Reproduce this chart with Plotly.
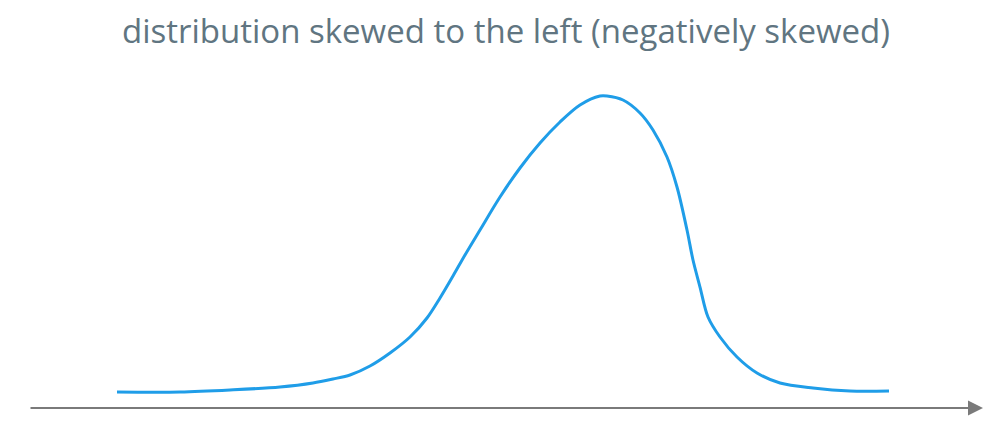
import plotly.graph_objects as go

# Readings of the curve (value on horizontal axis, relative density)
values = [117, 180, 230, 280, 313, 333, 350, 370, 390, 410, 427, 440, 453, 465, 480, 500,
          520, 540, 560, 580, 600, 607, 623, 640, 653, 667, 677, 687, 693, 700, 708,
          720, 737, 757, 780, 813, 850, 889]
ypix = [392, 392, 390, 387, 383, 379, 375, 366, 353, 337, 318, 298, 276, 255, 230, 197,
        168, 143, 122, 105, 96, 96, 100, 113, 130, 157, 187, 230, 260, 287, 317,
        337, 357, 373, 383, 388, 391, 391]
density = [round((392 - p) / 296, 4) for p in ypix]

title_text = "distribution skewed to the left (negatively skewed)"

W, H, OFF = 990, 423, 8

fig = go.Figure()
fig.add_trace(go.Scatter(
    x=values, y=density, mode="lines",
    line=dict(color="#1f9de8", width=3, shape="spline", smoothing=0.9),
    hoverinfo="skip", showlegend=False,
))

y_lo = (392 - (OFF + H)) / 296
y_hi = (392 - OFF) / 296
axis_y = (392 - 408) / 296

fig.add_annotation(
    x=983, y=axis_y, ax=29, ay=axis_y, xref="x", yref="y", axref="x", ayref="y",
    showarrow=True, arrowhead=2, arrowsize=1.5, arrowwidth=2, arrowcolor="#7a7a7a",
    text="",
)
fig.add_annotation(
    x=506, y=1 - (31 - OFF) / H, xref="x", yref="paper", yanchor="middle", showarrow=False,
    text=title_text, font=dict(family="Open Sans", size=33, color="#607581"),
)
fig.update_layout(
    width=W, height=H, margin=dict(l=0, r=0, t=0, b=0),
    paper_bgcolor="white", plot_bgcolor="white",
    xaxis=dict(range=[OFF, OFF + W], visible=False, fixedrange=True),
    yaxis=dict(range=[y_lo, y_hi], visible=False, fixedrange=True),
)
fig.write_html("out.html")
